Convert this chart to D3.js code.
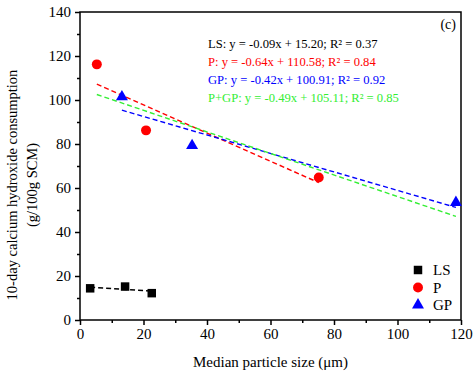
<!DOCTYPE html>
<html><head><meta charset="utf-8">
<script src="https://cdn.jsdelivr.net/npm/d3@7"></script>
<style>body{margin:0;background:#fff}svg{display:block}</style>
</head><body><svg id="c" width="474" height="372" font-family="Liberation Serif, Times New Roman, DejaVu Serif, serif"></svg>
<script>
const lsX = [3.2, 14.2, 22.6];
const lsY = [14.4, 15.2, 12.2];
const pX = [5.3, 20.8, 75.2];
const pY = [116.2, 86.2, 64.8];
const gpX = [13.2, 35.3, 118.4];
const gpY = [101.4, 79.3, 53.4];
const fits = [
  {name:"LS", slope:-0.09, icpt:15.20, x0:3.2, x1:22.6, color:"#000000", label:"LS: y = -0.09x + 15.20; R² = 0.37"},
  {name:"P", slope:-0.64, icpt:110.58, x0:5.3, x1:75.2, color:"#ff0000", label:"P: y = -0.64x + 110.58; R² = 0.84"},
  {name:"GP", slope:-0.42, icpt:100.91, x0:13.2, x1:118.4, color:"#0000ff", label:"GP: y = -0.42x + 100.91; R² = 0.92"},
  {name:"P+GP", slope:-0.49, icpt:105.11, x0:5.3, x1:118.4, color:"#33ee33", label:"P+GP: y = -0.49x + 105.11; R² = 0.85"}
];
const xTicks = [0,20,40,60,80,100,120];
const yTicks = [0,20,40,60,80,100,120,140];
const legendNames = ["LS","P","GP"];

const FF = "Liberation Serif, Times New Roman, DejaVu Serif, serif";
const svg = d3.select("#c");
const L=80, R=461, T=12, B=320;
const x = d3.scaleLinear().domain([0,120]).range([L,R]);
const y = d3.scaleLinear().domain([0,140]).range([B,T]);

const fs = "15px";
const xa = svg.append("g").attr("transform",`translate(0,${B})`)
  .call(d3.axisBottom(x).tickValues(xTicks).tickSize(5).tickSizeOuter(0).tickPadding(3));
const xm = svg.append("g").attr("transform",`translate(0,${B})`)
  .call(d3.axisBottom(x).tickValues(d3.range(10,120,20)).tickSize(3).tickSizeOuter(0).tickFormat(""));
const ya = svg.append("g").attr("transform",`translate(${L},0)`)
  .call(d3.axisLeft(y).tickValues(yTicks).tickSize(5).tickSizeOuter(0).tickPadding(4));
const ym = svg.append("g").attr("transform",`translate(${L},0)`)
  .call(d3.axisLeft(y).tickValues(d3.range(10,140,20)).tickSize(3).tickSizeOuter(0).tickFormat(""));
[xa,xm,ya,ym].forEach(g=>{
  g.attr("font-family",FF).attr("font-size",null);
  g.selectAll("path").remove();
  g.selectAll("line").attr("stroke","#000").attr("stroke-width",1.5);
  g.selectAll("text").attr("font-size",fs).attr("fill","#000").attr("font-family",FF);
});
svg.append("rect").attr("x",L).attr("y",T).attr("width",R-L).attr("height",B-T)
  .attr("fill","none").attr("stroke","#000").attr("stroke-width",1.5);

fits.forEach(f=>{
  svg.append("line").attr("x1",x(f.x0)).attr("y1",y(f.slope*f.x0+f.icpt))
    .attr("x2",x(f.x1)).attr("y2",y(f.slope*f.x1+f.icpt))
    .attr("stroke",f.color).attr("stroke-width",1.4).attr("stroke-dasharray","5,3");
});

const sq = d3.symbol().type(d3.symbolSquare).size(72);
const ci = d3.symbol().type(d3.symbolCircle).size(78);
const tr = d3.symbol().type(d3.symbolTriangle).size(62);
lsX.forEach((v,i)=>svg.append("path").attr("d",sq).attr("transform",`translate(${x(v)},${y(lsY[i])})`).attr("fill","#000"));
pX.forEach((v,i)=>svg.append("path").attr("d",ci).attr("transform",`translate(${x(v)},${y(pY[i])})`).attr("fill","#ff0000"));
gpX.forEach((v,i)=>svg.append("path").attr("d",tr).attr("transform",`translate(${x(v)},${y(gpY[i])})`).attr("fill","#0000ff"));

fits.forEach((f,i)=>{
  svg.append("text").attr("x",208).attr("y",48+i*18).attr("font-size","12.6px").attr("font-family",FF).attr("fill",f.color).text(f.label);
});
svg.append("text").attr("x",456).attr("y",29).attr("text-anchor","end").attr("font-size","14px").attr("font-family",FF).text("(c)");

const legSyms=[sq,ci,tr], legCols=["#000","#ff0000","#0000ff"];
legendNames.forEach((n,i)=>{
  const yy = 270+i*17.5;
  svg.append("path").attr("d",legSyms[i]).attr("transform",`translate(418,${yy})`).attr("fill",legCols[i]);
  svg.append("text").attr("x",433).attr("y",yy+5).attr("font-size","15px").attr("font-family",FF).text(n);
});

svg.append("text").attr("x",(L+R)/2).attr("y",367).attr("text-anchor","middle").attr("font-size","15px").attr("font-family",FF).text("Median particle size (μm)");
const yt = svg.append("text").attr("transform","translate(0,185) rotate(-90)").attr("text-anchor","middle").attr("font-size","14.5px").attr("font-family",FF);
yt.append("tspan").attr("x",0).attr("y",17).text("10-day calcium hydroxide consumption");
yt.append("tspan").attr("x",0).attr("y",37).text("(g/100g SCM)");
</script></body></html>
